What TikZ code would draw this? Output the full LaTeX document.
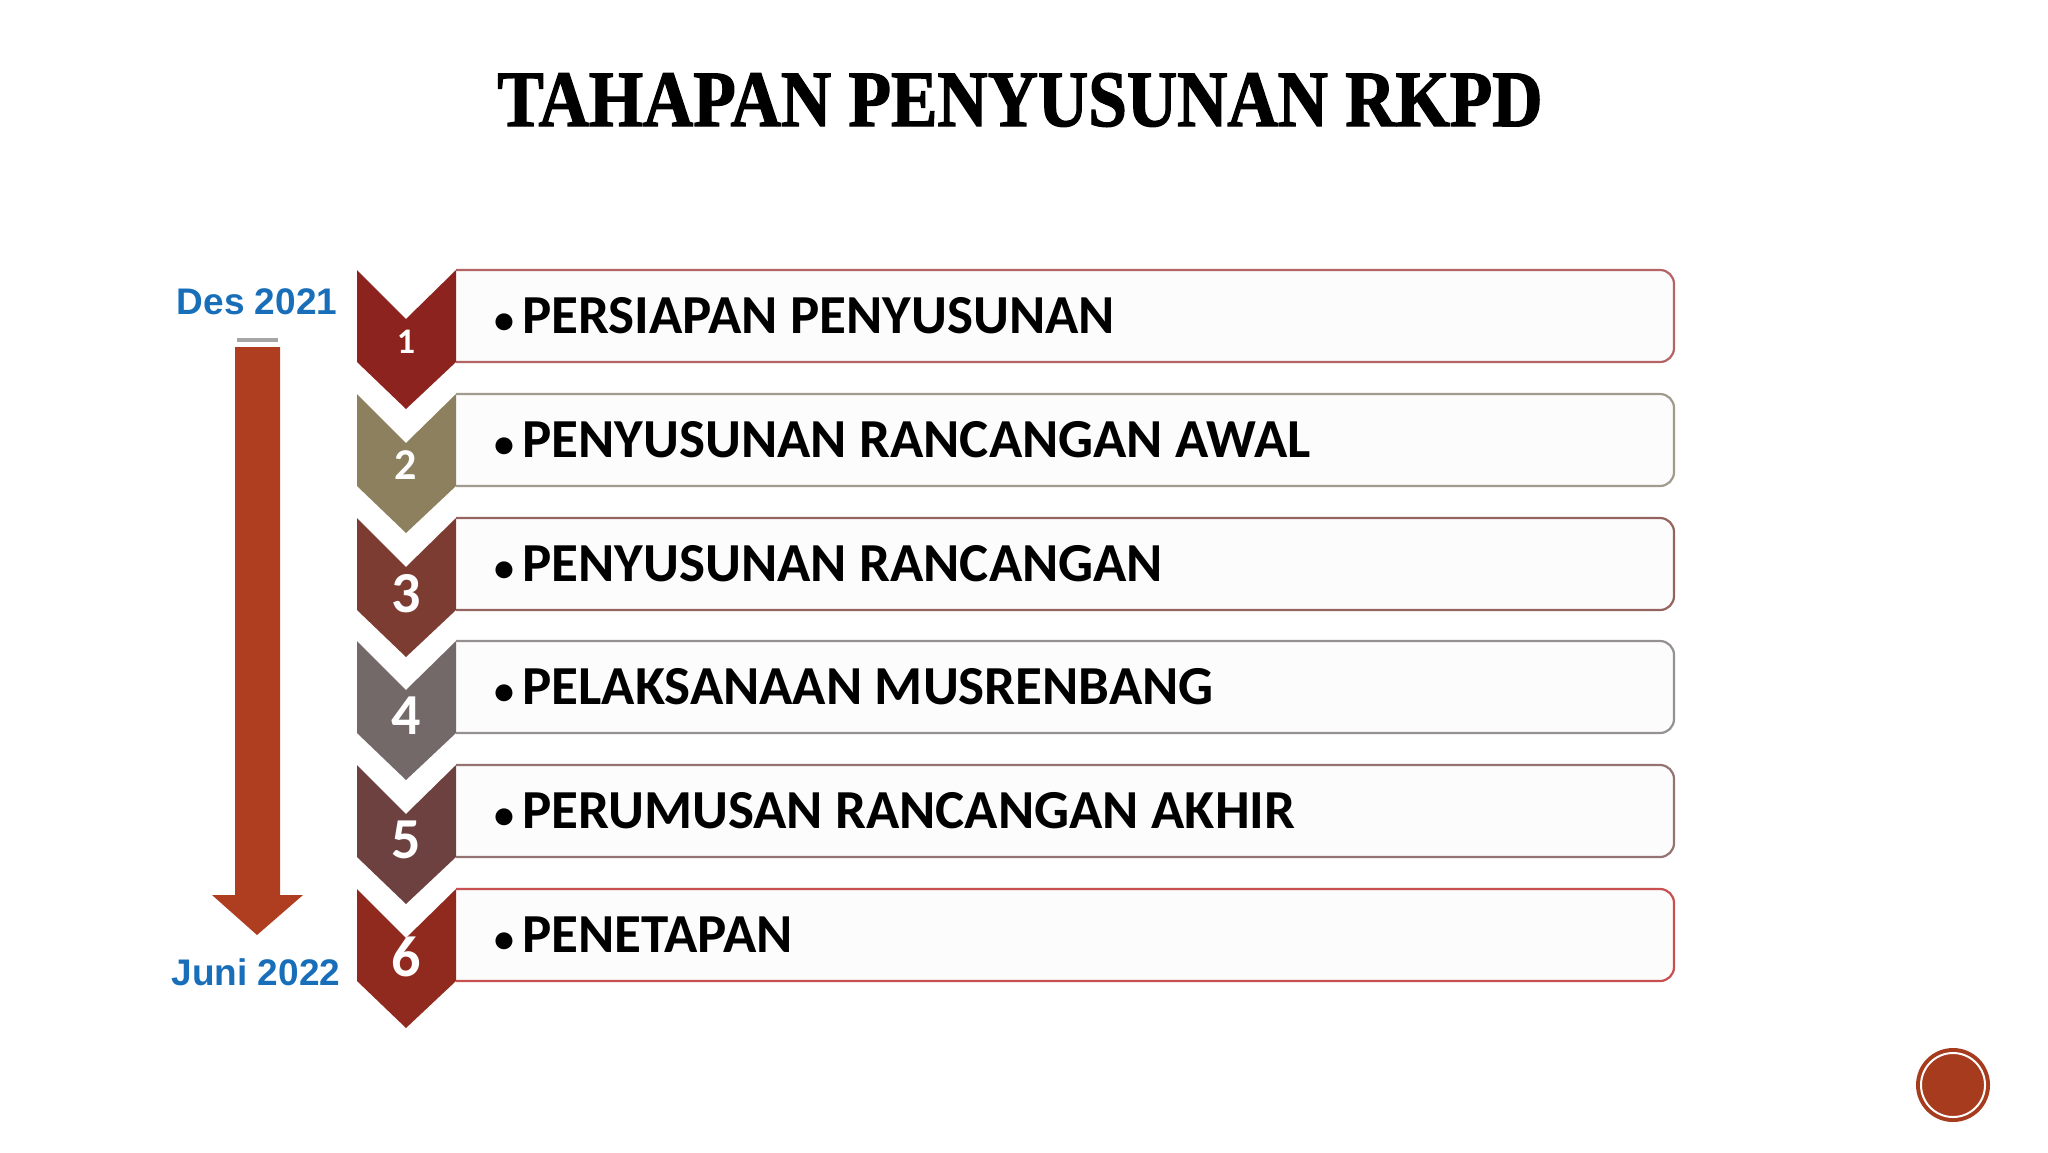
\documentclass[tikz,border=0pt]{standalone}
\usepackage{fontspec}
\setmainfont{Carlito}
\newfontfamily\titlefont[FakeStretch=0.87,FakeBold=1.6]{Liberation Serif}
\newfontfamily\datefont{Liberation Sans}
\usepackage{tikz}
\usetikzlibrary{shapes,arrows}
\definecolor{chevA}{RGB}{140,35,30}
\definecolor{chevB}{RGB}{140,128,95}
\definecolor{chevC}{RGB}{125,60,50}
\definecolor{chevD}{RGB}{115,105,105}
\definecolor{chevE}{RGB}{110,65,65}
\definecolor{chevF}{RGB}{145,42,30}
\definecolor{rimA}{RGB}{180,100,100}
\definecolor{rimB}{RGB}{160,155,140}
\definecolor{rimC}{RGB}{150,100,95}
\definecolor{rimD}{RGB}{150,145,145}
\definecolor{rimE}{RGB}{150,115,115}
\definecolor{rimF}{RGB}{200,80,80}
\definecolor{rust}{RGB}{175,62,32}
\definecolor{dateblue}{RGB}{25,110,185}
\tikzstyle{panel} = [fill=white!98!gray, line width=1.1pt, rounded corners=7pt]
\tikzstyle{item} = [anchor=west, inner sep=0pt, font=\bfseries\fontsize{27.5}{28}\selectfont]
\tikzstyle{num} = [text=white, inner sep=0pt, font=\bfseries]
\tikzstyle{datelbl} = [text=dateblue, inner sep=0pt, font=\datefont\bfseries\fontsize{18.5}{19}\selectfont]
% one chevron, #1 = top edge, #2 = colour
\newcommand{\chevron}[2]{\fill[#2] (357,#1) -- (406,#1+49) -- (456,#1) -- (456,#1+92) -- (406,#1+139) -- (357,#1+92) -- cycle;}
\newcommand{\dotmark}{{\fontsize{20}{20}\selectfont\textbullet}\hspace{4pt}}

\begin{document}
\begin{tikzpicture}[x=0.5pt, y=-0.5pt]
    \useasboundingbox (0,0) rectangle (2048,1152);
    % Title
    \node (title) at (1020,100) {\titlefont\bfseries\fontsize{40}{40}\selectfont TAHAPAN PENYUSUNAN RKPD};
    % Panels
    \draw [panel, draw=rimA] (456,270) -- (1674,270) -- (1674,362) -- (456,362);
    \draw [panel, draw=rimB] (456,394) -- (1674,394) -- (1674,486) -- (456,486);
    \draw [panel, draw=rimC] (456,518) -- (1674,518) -- (1674,610) -- (456,610);
    \draw [panel, draw=rimD] (456,641) -- (1674,641) -- (1674,733) -- (456,733);
    \draw [panel, draw=rimE] (456,765) -- (1674,765) -- (1674,857) -- (456,857);
    \draw [panel, draw=rimF] (456,889) -- (1674,889) -- (1674,981) -- (456,981);
    % Chevrons
    \chevron{270}{chevA}
    \chevron{394}{chevB}
    \chevron{518}{chevC}
    \chevron{641}{chevD}
    \chevron{765}{chevE}
    \chevron{889}{chevF}
    % Numbers
    \node [num, font=\bfseries\fontsize{18}{18}\selectfont] (n1) at (406,342) {1};
    \node [num, font=\bfseries\fontsize{22}{22}\selectfont] (n2) at (406,465) {2};
    \node [num, font=\bfseries\fontsize{29}{29}\selectfont] (n3) at (406,594) {3};
    \node [num, font=\bfseries\fontsize{29}{29}\selectfont] (n4) at (406,716) {4};
    \node [num, font=\bfseries\fontsize{29}{29}\selectfont] (n5) at (406,840) {5};
    \node [num, font=\bfseries\fontsize{29}{29}\selectfont] (n6) at (406,957) {6};
    % Steps
    \node [item] (step1) at (494,316) {\dotmark PERSIAPAN PENYUSUNAN};
    \node [item] (step2) at (494,440) {\dotmark PENYUSUNAN RANCANGAN AWAL};
    \node [item] (step3) at (494,564) {\dotmark PENYUSUNAN RANCANGAN};
    \node [item] (step4) at (494,687) {\dotmark PELAKSANAAN MUSRENBANG};
    \node [item] (step5) at (494,811) {\dotmark PERUMUSAN RANCANGAN AKHIR};
    \node [item] (step6) at (494,935) {\dotmark PENETAPAN};
    % Time line
    \node [datelbl] (des) at (257,302) {Des 2021};
    \node [datelbl] (juni) at (256,972) {Juni 2022};
    \draw [gray!70, line width=2pt] (237,340) -- (278,340);
    \fill [rust] (235,347) -- (280,347) -- (280,895) -- (303,895) -- (257,935) -- (212,895) -- (235,895) -- cycle;
    % Page button
    \node [circle, fill=rust!95!black, minimum size=37pt, inner sep=0pt] (pagebtn) at (1953,1085) {};
    \draw [white, line width=1pt] (pagebtn.center) circle (16pt);
\end{tikzpicture}
\end{document}
